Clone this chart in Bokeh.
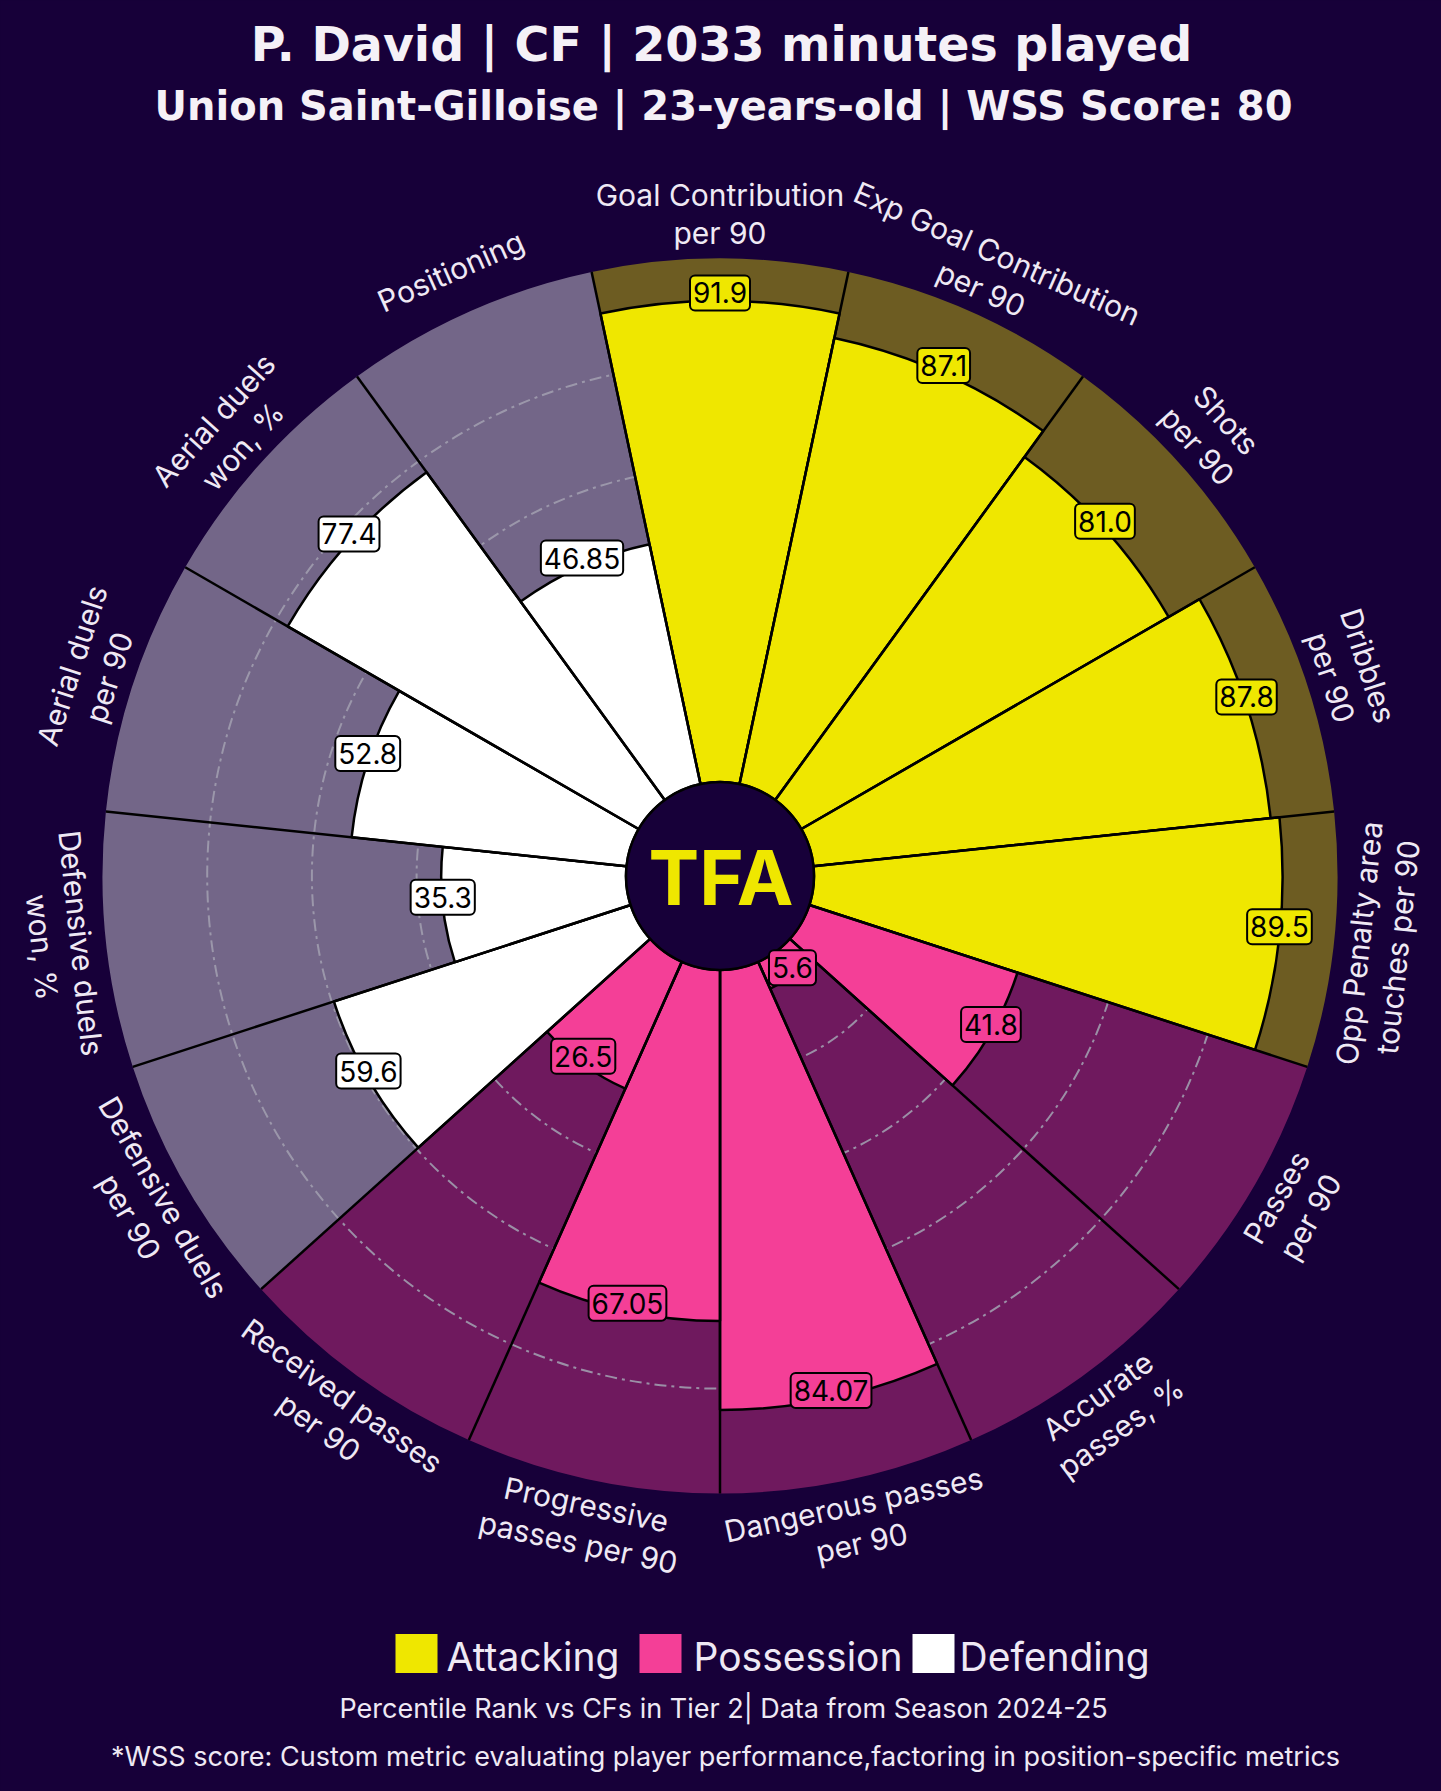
import math
from bokeh.plotting import figure
from bokeh.models import Range1d
from bokeh.embed import file_html
from bokeh.resources import INLINE
from bokeh.core.properties import value

# ---------------- data ----------------
params = [
    "Goal Contribution\nper 90",
    "Exp Goal Contribution\nper 90",
    "Shots\nper 90",
    "Dribbles\nper 90",
    "Opp Penalty area\ntouches per 90",
    "Passes\nper 90",
    "Accurate\npasses, %",
    "Dangerous passes\nper 90",
    "Progressive\npasses per 90",
    "Received passes\nper 90",
    "Defensive duels\nper 90",
    "Defensive duels\nwon, %",
    "Aerial duels\nper 90",
    "Aerial duels\nwon, %",
    "Positioning",
]
value_text = ["91.9", "87.1", "81.0", "87.8", "89.5",
              "41.8", "5.6", "84.07", "67.05", "26.5",
              "59.6", "35.3", "52.8", "77.4", "46.85"]
groups = ["Attacking"] * 5 + ["Possession"] * 5 + ["Defending"] * 5
legend_labels = ["Attacking", "Possession", "Defending"]
grid_values = [20, 40, 60, 80]

title = "P. David | CF | 2033 minutes played"
subtitle = "Union Saint-Gilloise | 23-years-old | WSS Score: 80"
footer1 = "Percentile Rank vs CFs in Tier 2| Data from Season 2024-25"
footer2 = "*WSS score: Custom metric evaluating player performance,factoring in position-specific metrics"

# ---------------- style ----------------
BG = "#170039"
GROUP_COLOR = {"Attacking": "#EFE700", "Possession": "#F43F97", "Defending": "#FFFFFF"}
TXT = "#efe9f4"
FONT = "Inter"
TFONT = "DejaVu Sans"

W, H = 1441, 1791
PAGE_H = 1791
p = figure(width=W, height=H, output_backend="svg", toolbar_location=None,
           x_range=Range1d(0, W), y_range=Range1d(PAGE_H - H, PAGE_H),
           min_border=0, background_fill_color=BG, border_fill_color=BG,
           outline_line_color=None)
p.xaxis.visible = False
p.yaxis.visible = False
p.xgrid.visible = False
p.ygrid.visible = False


def Y(py):
    return PAGE_H - py


cx, cy = 719.5, Y(875.5)
R, r0 = 617.5, 94.0


def rad(v):
    return r0 + v / 100.0 * (R - r0)


n = len(params)
step = 2 * math.pi / n
thetas = [math.pi / 2 - i * step for i in range(n)]
vals = [float(s) for s in value_text]
cols = [GROUP_COLOR[g] for g in groups]

# background slices
p.annular_wedge(x=[cx] * n, y=[cy] * n, inner_radius=r0, outer_radius=R,
                start_angle=[t - step / 2 for t in thetas],
                end_angle=[t + step / 2 for t in thetas],
                fill_color=cols, fill_alpha=0.4, line_color=None)

# grid circles
p.arc(x=[cx] * len(grid_values), y=[cy] * len(grid_values),
      radius=[rad(g) for g in grid_values], start_angle=0, end_angle=2 * math.pi,
      line_color="#a09cae", line_alpha=0.9, line_width=2, line_dash="12 5 3 5")

# bars
p.annular_wedge(x=[cx] * n, y=[cy] * n, inner_radius=r0,
                outer_radius=[rad(v) for v in vals],
                start_angle=[t - step / 2 for t in thetas],
                end_angle=[t + step / 2 for t in thetas],
                fill_color=cols, line_color="black", line_width=2.5)

# straight separators
b_angles = [t + step / 2 for t in thetas]
p.segment(x0=[cx + r0 * math.cos(a) for a in b_angles], y0=[cy + r0 * math.sin(a) for a in b_angles],
          x1=[cx + R * math.cos(a) for a in b_angles], y1=[cy + R * math.sin(a) for a in b_angles],
          line_color="black", line_width=2.5)

# center circle + logo
p.circle(x=[cx], y=[cy], radius=r0, fill_color=BG, line_color="black", line_width=2.5)
p.text(x=[cx + 1], y=[Y(876.5)], text=["TFA"], text_align="center", text_baseline="middle",
       text_font=value(FONT), text_font_style="bold", text_font_size="76px",
       text_color=GROUP_COLOR["Attacking"])

# value labels
lx = [cx + rad(v) * math.cos(t) for v, t in zip(vals, thetas)]
ly = [cy + rad(v) * math.sin(t) + 8 for v, t in zip(vals, thetas)]
p.text(x=lx, y=ly, text=value_text, text_align="center", text_baseline="middle",
       text_font=value(FONT), text_font_size="28px", text_color="black",
       background_fill_color=cols, border_line_color="black", border_line_width=2,
       border_radius=5, padding=(3, 7))

# parameter labels
LR = 662
angs = []
for t in thetas:
    d = math.degrees(t)
    d = (d + 180) % 360 - 180
    rot = d - 90 if d > 0 else d + 90
    angs.append(math.radians(rot))
p.text(x=[cx + LR * math.cos(t) for t in thetas], y=[cy + LR * math.sin(t) for t in thetas],
       text=params, angle=angs, text_align="center", text_baseline="middle",
       text_font=value(FONT), text_font_size="30px", text_color=TXT, text_line_height=1.08)

# titles
p.text(x=[721], y=[Y(44)], text=[title], text_align="center", text_baseline="middle",
       text_font=value(TFONT), text_font_style="bold", text_font_size="47.5px", text_color="#f5f1f7")
p.text(x=[723], y=[Y(105)], text=[subtitle], text_align="center", text_baseline="middle",
       text_font=value(TFONT), text_font_style="bold", text_font_size="40px", text_color="#f5f1f7")

# legend
sq_x = [416, 660, 933]
tx_x = [446, 693, 959]
p.rect(x=sq_x, y=[Y(1653)] * 3, width=42, height=39,
       fill_color=[GROUP_COLOR[g] for g in legend_labels], line_color=None)
p.text(x=tx_x, y=[Y(1656)] * 3, text=legend_labels, text_align="left", text_baseline="middle",
       text_font=value(FONT), text_font_size="39px", text_color=TXT)

# footers
p.text(x=[723], y=[Y(1708)], text=[footer1], text_align="center", text_baseline="middle",
       text_font=value(FONT), text_font_size="27px", text_color=TXT)
p.text(x=[725], y=[Y(1756)], text=[footer2], text_align="center", text_baseline="middle",
       text_font=value(FONT), text_font_size="27px", text_color=TXT)

html = file_html(p, INLINE)
html = html.replace("</head>", "<style>body{background:%s;margin:0;}</style></head>" % BG, 1)
open("out.html", "w").write(html)
